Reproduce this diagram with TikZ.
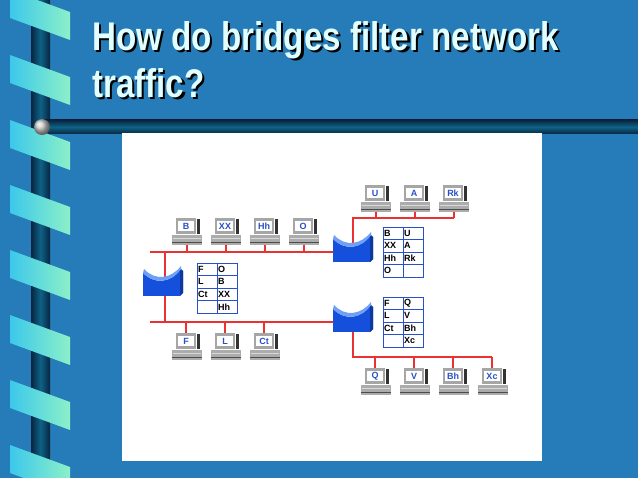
\documentclass[tikz,border=0pt]{standalone}
\usepackage{fontspec}
\setmainfont{Liberation Sans}
\definecolor{bg}{RGB}{38,124,184}
\definecolor{pole}{RGB}{16,60,105}
\definecolor{rib}{RGB}{60,200,235}
\definecolor{ribg}{RGB}{140,240,200}
\definecolor{ttl}{RGB}{225,255,255}
\definecolor{lan}{RGB}{235,50,50}
\definecolor{brb}{RGB}{20,80,220}
\definecolor{brl}{RGB}{110,160,245}
\definecolor{tbl}{RGB}{40,80,200}
\tikzset{
  scr/.style={draw=gray!70,fill=white,line width=2.5pt,minimum width=18pt,minimum height=13pt,inner sep=0pt,font=\bfseries\fontsize{9}{9}\selectfont,text=tbl},
  bus/.style={draw=lan,line width=1.3pt},
  cell/.style={font=\bfseries\fontsize{9}{9}\selectfont,anchor=west,inner sep=1pt}
}
\newcommand{\shd}[1]{\makebox[0pt][l]{\kern2.5pt\raisebox{-2.5pt}{\color{black}#1}}#1}
\newcommand{\comp}[4]{%
  \node[scr] (#1) at (#2,#3) {#4};
  \fill[black!80] ([xshift=1pt,yshift=-1pt]#1.north east) rectangle ++(2.5,15);
  \fill[gray!65] ([xshift=-4pt,yshift=-1pt]#1.south west) rectangle ([xshift=6pt,yshift=-11pt]#1.south east);
  \draw[gray!30,line width=0.6pt] ([xshift=-3pt,yshift=-5pt]#1.south west) -- ([xshift=5pt,yshift=-5pt]#1.south east);
  \draw[black!70,line width=0.8pt] ([xshift=-4pt,yshift=-9pt]#1.south west) -- ([xshift=6pt,yshift=-9pt]#1.south east);
  \coordinate (#1b) at ([xshift=1pt,yshift=-11pt]#1.south);
}
\newcommand{\bridge}[3]{%
  \coordinate (#1) at (#2,#3);
  \fill[brb] (#2-20,#3-8) .. controls (#2-8,#3+4) and (#2+8,#3+2) .. (#2+18,#3-12) -- (#2+20,#3-10) -- (#2+20,#3+12) -- (#2+17,#3+15) -- (#2-20,#3+15) -- cycle;
  \fill[brl] (#2-20,#3-8) .. controls (#2-8,#3+4) and (#2+8,#3+2) .. (#2+18,#3-12) -- (#2+18,#3-15) .. controls (#2+8,#3-2) and (#2-8,#3) .. (#2-19,#3-12) -- cycle;
  \fill[brb!70!black] (#2+17,#3-11) -- (#2+20,#3-10) -- (#2+20,#3+12) -- (#2+17,#3+15) -- cycle;
}
\newcommand{\tabl}[9]{%
  \draw[tbl,line width=0.8pt] (#1,#2) rectangle ++(40,50);
  \draw[tbl,line width=0.8pt] (#1+20,#2) -- ++(0,50);
  \foreach \k in {1,2,3} \draw[tbl,line width=0.8pt] (#1,#2+12.5*\k) -- ++(40,0);
  \node[cell] at (#1,#2+6.25) {#3}; \node[cell] at (#1+20,#2+6.25) {#4};
  \node[cell] at (#1,#2+18.75) {#5}; \node[cell] at (#1+20,#2+18.75) {#6};
  \node[cell] at (#1,#2+31.25) {#7}; \node[cell] at (#1+20,#2+31.25) {#8};
  \node[cell] at (#1+20,#2+43.75) {#9};
}
\begin{document}
\begin{tikzpicture}[x=1pt,y=-1pt]
\useasboundingbox (0,0) rectangle (638,478);
\fill[bg] (0,0) rectangle (638,478);
% pole and bar
\shade[left color=pole!60!black,right color=pole!60!black,middle color=pole!80!cyan] (31,0) rectangle (50,478);
\shade[top color=pole!60!black,bottom color=pole!60!black,middle color=pole!80!cyan] (40,120) rectangle (638,134);
% ribbons
\foreach \y in {-10,55,120,185,250,315,380,445}{
  \fill[ribg!80!rib] (12,\y+22) -- (30,\y+8) -- (30,\y+28) -- cycle;
  \shade[left color=rib,right color=ribg] (10,\y) -- (70,\y+22) -- (70,\y+50) -- (10,\y+28) -- cycle;
}
\shade[ball color=gray!40] (42,127) circle (8);
% title
\node[anchor=north west,align=left,text=ttl,font=\bfseries\fontsize{40}{47}\selectfont,inner sep=0pt,xscale=0.83] (title) at (92,21) {\shd{How do bridges filter network}\\\shd{traffic?}};
% panel
\fill[white] (122,133) rectangle (542,461);
% computers
\comp{B}{186}{226}{B}\comp{XX}{225}{226}{XX}\comp{Hh}{264}{226}{Hh}\comp{O}{303}{226}{O}
\comp{F}{186}{341}{F}\comp{L}{225}{341}{L}\comp{Ct}{264}{341}{Ct}
\comp{U}{375}{193}{U}\comp{A}{414}{193}{A}\comp{Rk}{453}{193}{Rk}
\comp{Q}{375}{376}{Q}\comp{V}{414}{376}{V}\comp{Bh}{453}{376}{Bh}\comp{Xc}{492}{376}{Xc}
% buses
\coordinate (tl) at (150,252); \coordinate (tr) at (336,252);
\coordinate (bl) at (150,322); \coordinate (br) at (336,322);
\draw[bus] (tl) -- (tr); \draw[bus] (bl) -- (br);
\draw[bus] (165,252) -- (165,322);
\foreach \n in {B,XX,Hh,O} \draw[bus] (\n b) -- (\n b |- tl);
\foreach \n in {F,L,Ct} \draw[bus] (\n.north) -- (\n.north |- bl);
\coordinate (ut) at (353,218); \coordinate (qt) at (353,357);
\draw[bus] (353,245) -- (ut) -- (Rkb |- ut);
\foreach \n in {U,A,Rk} \draw[bus] (\n b) -- (\n b |- ut);
\draw[bus] (353,318) -- (qt) -- (Xc.north |- qt);
\foreach \n in {Q,V,Bh,Xc} \draw[bus] (\n.north) -- (\n.north |- qt);
% bridges
\bridge{br1}{163}{281}
\bridge{br2}{353}{247}
\bridge{br3}{353}{317}
% tables
\tabl{197}{263}{F}{O}{L}{B}{Ct}{XX}{Hh}
\tabl{383}{227}{B}{U}{XX}{A}{Hh}{Rk}{}
\node[cell] at (383,227+43.75) {O};
\tabl{383}{297}{F}{Q}{L}{V}{Ct}{Bh}{Xc}
\end{tikzpicture}
\end{document}
